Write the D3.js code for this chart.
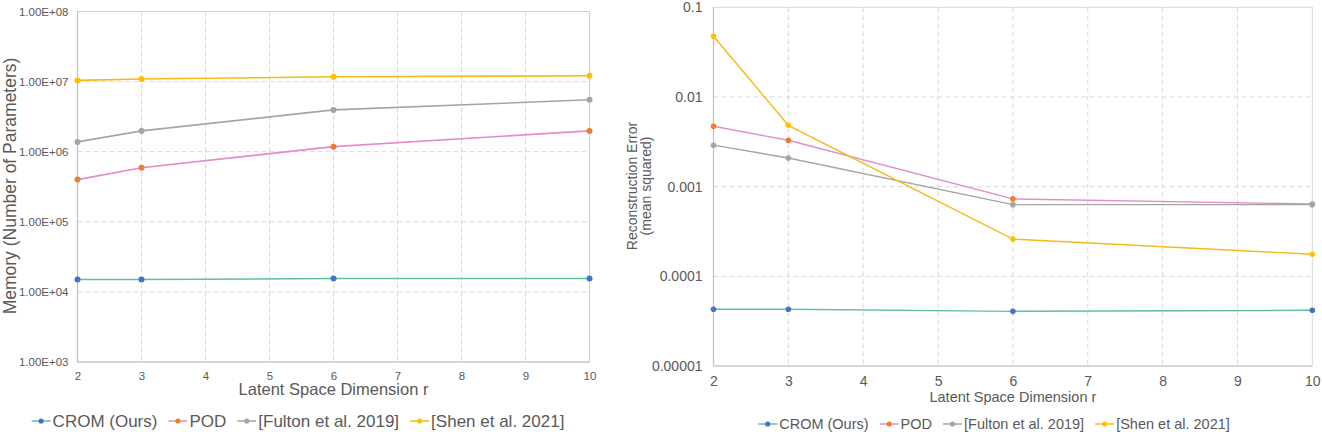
<!DOCTYPE html>
<html>
<head>
<meta charset="utf-8">
<script src="https://cdn.jsdelivr.net/npm/d3@7"></script>
<style>
  body { margin: 0; background: #fff; }
  text { font-family: "Liberation Sans", Arial, Helvetica, sans-serif; fill: #595959; }
</style>
</head>
<body>
<div id="chart"></div>
<script>
var w = 1322;
var h = 432;

// data
var dims = [2, 3, 6, 10];
var xTicks = [2, 3, 4, 5, 6, 7, 8, 9, 10];
var seriesNames = ["CROM (Ours)", "POD", "[Fulton et al. 2019]", "[Shen et al. 2021]"];

var memCrom = [15000, 15000, 15500, 15500];
var memPod = [400000, 590000, 1180000, 1980000];
var memFulton = [1380000, 1980000, 3950000, 5500000];
var memShen = [10400000, 10900000, 11700000, 12100000];
var memTicks = [1e3, 1e4, 1e5, 1e6, 1e7, 1e8];
var memTickLabels = ["1.00E+03", "1.00E+04", "1.00E+05", "1.00E+06", "1.00E+07", "1.00E+08"];

var errCrom = [0.0000429, 0.0000429, 0.0000407, 0.0000418];
var errPod = [0.00471, 0.00329, 0.00073, 0.00064];
var errFulton = [0.0029, 0.00209, 0.00063, 0.00063];
var errShen = [0.0475, 0.00483, 0.00026, 0.000176];
var errTicks = [1e-5, 1e-4, 1e-3, 1e-2, 1e-1];
var errTickLabels = ["0.00001", "0.0001", "0.001", "0.01", "0.1"];

// styles per series
var markColor = ["#4472c4", "#ed7d31", "#a5a5a5", "#ffc000"];
var lineColor = ["#5fc0a0", "#e28ccb", "#a5a5a5", "#f5bb14"];

var svg = d3.select("#chart").append("svg")
  .attr("width", w)
  .attr("height", h);

function drawChart(opt) {
  var g = svg.append("g");
  var x = d3.scaleLinear().domain([2, 10]).range([opt.left, opt.right]);
  var y = d3.scaleLog().domain([opt.ticks[0], opt.ticks[opt.ticks.length - 1]]).range([opt.bottom, opt.top]);

  // vertical dashed grid
  g.selectAll(".vg").data(xTicks.slice(1, -1)).enter().append("line")
    .attr("x1", d => x(d)).attr("x2", d => x(d))
    .attr("y1", opt.top).attr("y2", opt.bottom)
    .style("stroke", "#d9d9d9").style("stroke-width", 1).style("stroke-dasharray", "5,3");
  // horizontal dashed grid
  g.selectAll(".hg").data(opt.ticks.slice(1, -1)).enter().append("line")
    .attr("x1", opt.left).attr("x2", opt.right)
    .attr("y1", d => y(d)).attr("y2", d => y(d))
    .style("stroke", "#d9d9d9").style("stroke-width", 1).style("stroke-dasharray", "5,3");
  // border
  g.append("rect")
    .attr("x", opt.left).attr("y", opt.top)
    .attr("width", opt.right - opt.left).attr("height", opt.bottom - opt.top)
    .style("fill", "none").style("stroke", opt.borderTop).style("stroke-width", 1);
  g.append("line")
    .attr("x1", opt.left).attr("x2", opt.left).attr("y1", opt.top).attr("y2", opt.bottom)
    .style("stroke", "#bfbfbf").style("stroke-width", 1.2);
  g.append("line")
    .attr("x1", opt.left).attr("x2", opt.right).attr("y1", opt.bottom).attr("y2", opt.bottom)
    .style("stroke", "#bfbfbf").style("stroke-width", 1.2);

  // axes (labels only)
  var yAxis = d3.axisLeft(y).tickValues(opt.ticks)
    .tickFormat((d, i) => opt.tickLabels[i]).tickSize(0).tickPadding(opt.yPad);
  var ya = g.append("g").attr("transform", "translate(" + opt.left + ",0)").call(yAxis);
  ya.select(".domain").remove();
  ya.selectAll("text").style("font-size", opt.tickFont + "px").style("fill", "#595959")
    .style("font-family", "Liberation Sans, Arial, sans-serif");

  var xAxis = d3.axisBottom(x).tickValues(xTicks).tickSize(0).tickPadding(opt.xPad);
  var xa = g.append("g").attr("transform", "translate(0," + opt.bottom + ")").call(xAxis);
  xa.select(".domain").remove();
  xa.selectAll("text").style("font-size", opt.tickFont + "px").style("fill", "#595959")
    .style("font-family", "Liberation Sans, Arial, sans-serif");

  // lines + markers
  var line = d3.line().x((d, i) => x(dims[i])).y(d => y(d));
  opt.series.forEach(function(s, k) {
    g.append("path").datum(s)
      .attr("d", line)
      .style("fill", "none").style("stroke", lineColor[k]).style("stroke-width", opt.lineW);
    g.selectAll(".m" + k).data(s).enter().append("circle")
      .attr("cx", (d, i) => x(dims[i])).attr("cy", d => y(d))
      .attr("r", opt.markR).style("fill", markColor[k]);
  });

  // x title
  g.append("text")
    .attr("x", (opt.left + opt.right) / 2).attr("y", opt.xTitleY)
    .attr("text-anchor", "middle").style("font-size", opt.titleFont + "px")
    .text("Latent Space Dimension r");

  // y title
  opt.yTitle.forEach(function(t, i) {
    g.append("text")
      .attr("transform", "translate(" + opt.yTitleX[i] + "," + opt.yTitleMid + ") rotate(-90)")
      .attr("text-anchor", "middle").style("font-size", opt.yTitleFont + "px")
      .text(t);
  });

  // legend
  var lg = g.append("g");
  var cx = 0;
  seriesNames.forEach(function(name, k) {
    var it = lg.append("g").attr("transform", "translate(" + cx + ",0)");
    it.append("line").attr("x1", 0).attr("x2", 19).attr("y1", 0).attr("y2", 0)
      .style("stroke", lineColor[k]).style("stroke-width", 1.5);
    it.append("circle").attr("cx", 9.5).attr("cy", 0).attr("r", 2.6).style("fill", markColor[k]);
    var t = it.append("text").attr("x", 21).attr("y", 0).attr("dy", "0.36em")
      .style("font-size", opt.legendFont + "px").text(name);
    cx += 21 + t.node().getComputedTextLength() + opt.legendGap;
  });
  cx -= opt.legendGap;
  lg.attr("transform", "translate(" + (opt.legendMid - cx / 2) + "," + opt.legendY + ")");
}

drawChart({
  left: 77.5, right: 589.5, top: 11.5, bottom: 362,
  ticks: memTicks, tickLabels: memTickLabels,
  series: [memCrom, memPod, memFulton, memShen],
  tickFont: 11.5, yPad: 9, xPad: 10, borderTop: "#cfcfcf",
  lineW: 1.6, markR: 3,
  titleFont: 16.5, xTitleY: 395,
  yTitle: ["Memory (Number of Parameters)"], yTitleX: [16], yTitleMid: 186, yTitleFont: 17.5,
  legendFont: 17, legendGap: 11, legendMid: 298, legendY: 421
});

drawChart({
  left: 713.5, right: 1312.3, top: 7.3, bottom: 366,
  ticks: errTicks, tickLabels: errTickLabels,
  series: [errCrom, errPod, errFulton, errShen],
  tickFont: 14, yPad: 11, xPad: 10, borderTop: "#d9d9d9",
  lineW: 1.4, markR: 2.8,
  titleFont: 14.5, xTitleY: 402,
  yTitle: ["Reconstruction Error", "(mean squared)"], yTitleX: [637, 651], yTitleMid: 186, yTitleFont: 14,
  legendFont: 14.5, legendGap: 11, legendMid: 994, legendY: 424
});
</script>
</body>
</html>
